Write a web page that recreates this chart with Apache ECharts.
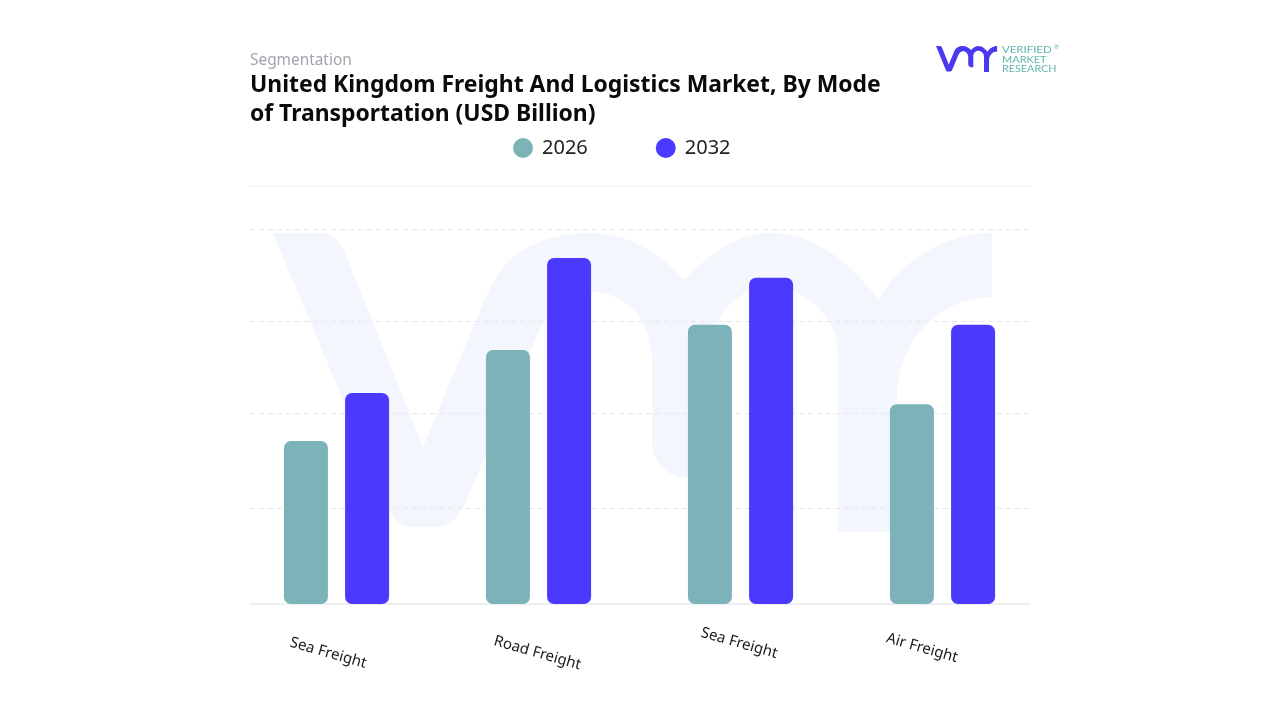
<!DOCTYPE html>
<html>
<head>
<meta charset="utf-8">
<title>United Kingdom Freight And Logistics Market</title>
<script src="https://cdn.jsdelivr.net/npm/echarts@6/dist/echarts.min.js"></script>
<style>
  html, body { margin: 0; padding: 0; background: #fff; }
  #chart-container { width: 1280px; height: 720px; }
</style>
</head>
<body>
<div id="chart-container"></div>
<script>
var categories = ["Sea Freight", "Road Freight", "Sea Freight", "Air Freight"];
var values2026 = [1.74, 2.71, 2.98, 2.13];
var values2032 = [2.25, 3.69, 3.48, 2.98];
var guideTicks = [0, 1.02, 2.03, 3.02, 4];

var FONT = "Noto Sans";
var TEAL = "#7bb3b9";
var BLUE = "#4b39ff";

// the "vmr" mark, used big as the watermark and small as the logo
var vmrPath =
  "M273 233 L320 233 C335 233 342 245 347 258 L423 447 L477 318 " +
  "C490 285 503 262 520 252 C545 236 570 233 590 233 C630 233 660 255 685 280 " +
  "C710 252 740 233 770 233 C815 233 855 265 878 300 C900 262 945 233 992 233 " +
  "L992 297 C945 297 897 335 897 400 L897 532 L838 532 L838 355 " +
  "C838 315 805 287 770 287 C738 287 712 315 712 350 L712 478 L690 478 " +
  "C665 478 652 460 652 440 L652 360 C652 320 625 292 593 292 " +
  "C565 292 547 310 535 340 L463 508 C455 522 445 527 432 527 L410 527 " +
  "C398 527 392 515 385 500 Z";
echarts.graphic.registerShape("vmr", echarts.graphic.extendPath(vmrPath, {}));

// small per-label shifts, the reference labels do not sit on one line
var labelPadding = [
  [26, 10, 0, 0],
  [22, 0, 0, 4],
  [3, 2, 0, 0],
  [23, 36, 0, 0],
];
var labelRich = {};
labelPadding.forEach(function (p, i) {
  labelRich["s" + i] = { fontFamily: FONT, fontSize: 15, color: "#1a1a1a", padding: p };
});

var dom = document.getElementById("chart-container");
var myChart = echarts.init(dom, null, { renderer: "canvas" });

var option = {
  animation: false,
  backgroundColor: "#fff",
  textStyle: { fontFamily: FONT },
  title: [
    {
      text: "Segmentation",
      left: 250,
      top: 53,
      padding: 0,
      textStyle: { fontFamily: FONT, fontSize: 15.4, fontWeight: "normal", color: "#a3a3ab" },
    },
    {
      text: "United Kingdom Freight And Logistics Market, By Mode\nof Transportation (USD Billion)",
      left: 250,
      top: 71,
      padding: 0,
      textStyle: { fontFamily: FONT, fontSize: 22.9, fontWeight: "bold", color: "#0a0a0a", lineHeight: 29 },
    },
  ],
  legend: {
    left: 513,
    top: 138,
    padding: 0,
    icon: "circle",
    itemWidth: 20,
    itemHeight: 20,
    itemGap: 68,
    textStyle: { fontFamily: FONT, fontSize: 20, color: "#222", padding: [2, 0, 0, 4] },
  },
  grid: [
    { left: 235.5, width: 808, top: 229, bottom: 116, z: 3 },
    { left: 250, width: 780, top: 229, bottom: 116, z: 1 },
  ],
  xAxis: [
    {
      type: "category",
      gridIndex: 0,
      data: categories,
      axisLine: { show: false },
      axisTick: { show: false },
      axisLabel: {
        rotate: -16,
        align: "center",
        verticalAlign: "middle",
        margin: 38,
        interval: 0,
        formatter: function (value, index) {
          return "{s" + index + "|" + value + "}";
        },
        rich: labelRich,
      },
    },
    {
      type: "category",
      gridIndex: 1,
      data: categories,
      axisLine: { show: true, lineStyle: { color: "#eceef1", width: 2 } },
      axisTick: { show: false },
      axisLabel: { show: false },
    },
  ],
  yAxis: [
    {
      type: "value",
      gridIndex: 0,
      min: 0,
      max: 4,
      interval: 1,
      axisLine: { show: false },
      axisTick: { show: false },
      axisLabel: { show: false },
      splitLine: { show: false },
    },
    {
      type: "value",
      gridIndex: 1,
      min: 0,
      max: 4,
      axisLine: { show: false },
      axisTick: { show: false, customValues: guideTicks },
      axisLabel: { show: false },
      splitLine: { show: true, lineStyle: { color: "#e6e6eb", type: [5, 4], width: 1 } },
    },
  ],
  series: [
    {
      name: "2026",
      type: "bar",
      xAxisIndex: 0,
      yAxisIndex: 0,
      data: values2026,
      barWidth: 44,
      barGap: "39%",
      itemStyle: { color: TEAL, borderRadius: 7 },
    },
    {
      name: "2032",
      type: "bar",
      xAxisIndex: 0,
      yAxisIndex: 0,
      data: values2032,
      barWidth: 44,
      barGap: "39%",
      itemStyle: { color: BLUE, borderRadius: 7 },
    },
  ],
  graphic: [
    // watermark
    { type: "vmr", z: -10, silent: true, style: { fill: "#f4f6fd" } },
    // rule above the plot
    {
      type: "line",
      z: 0,
      silent: true,
      shape: { x1: 250, y1: 186, x2: 1030, y2: 186 },
      style: { stroke: "#eeeef0", lineWidth: 1 },
    },
    // logo
    {
      type: "vmr",
      z: 5,
      silent: true,
      x: 936 - 273 * 0.085,
      y: 46 - 233 * 0.087,
      scaleX: 0.085,
      scaleY: 0.087,
      style: { fill: "#4b39f0" },
    },
    { type: "text", z: 5, silent: true, x: 1002, y: 46, scaleX: 1.27, style: { text: "VERIFIED", font: "9px Lato", fill: "#5fb5ac" } },
    { type: "text", z: 5, silent: true, x: 1002, y: 55.5, scaleX: 1.22, style: { text: "MARKET", font: "9px Lato", fill: "#5fb5ac" } },
    { type: "text", z: 5, silent: true, x: 1002, y: 65, scaleX: 1.2, style: { text: "RESEARCH", font: "9px Lato", fill: "#5fb5ac" } },
    { type: "text", z: 5, silent: true, x: 1054, y: 44, style: { text: "®", font: "6px Lato", fill: "#5fb5ac" } },
  ],
};

myChart.setOption(option);

window.addEventListener("resize", myChart.resize);
</script>
</body>
</html>
